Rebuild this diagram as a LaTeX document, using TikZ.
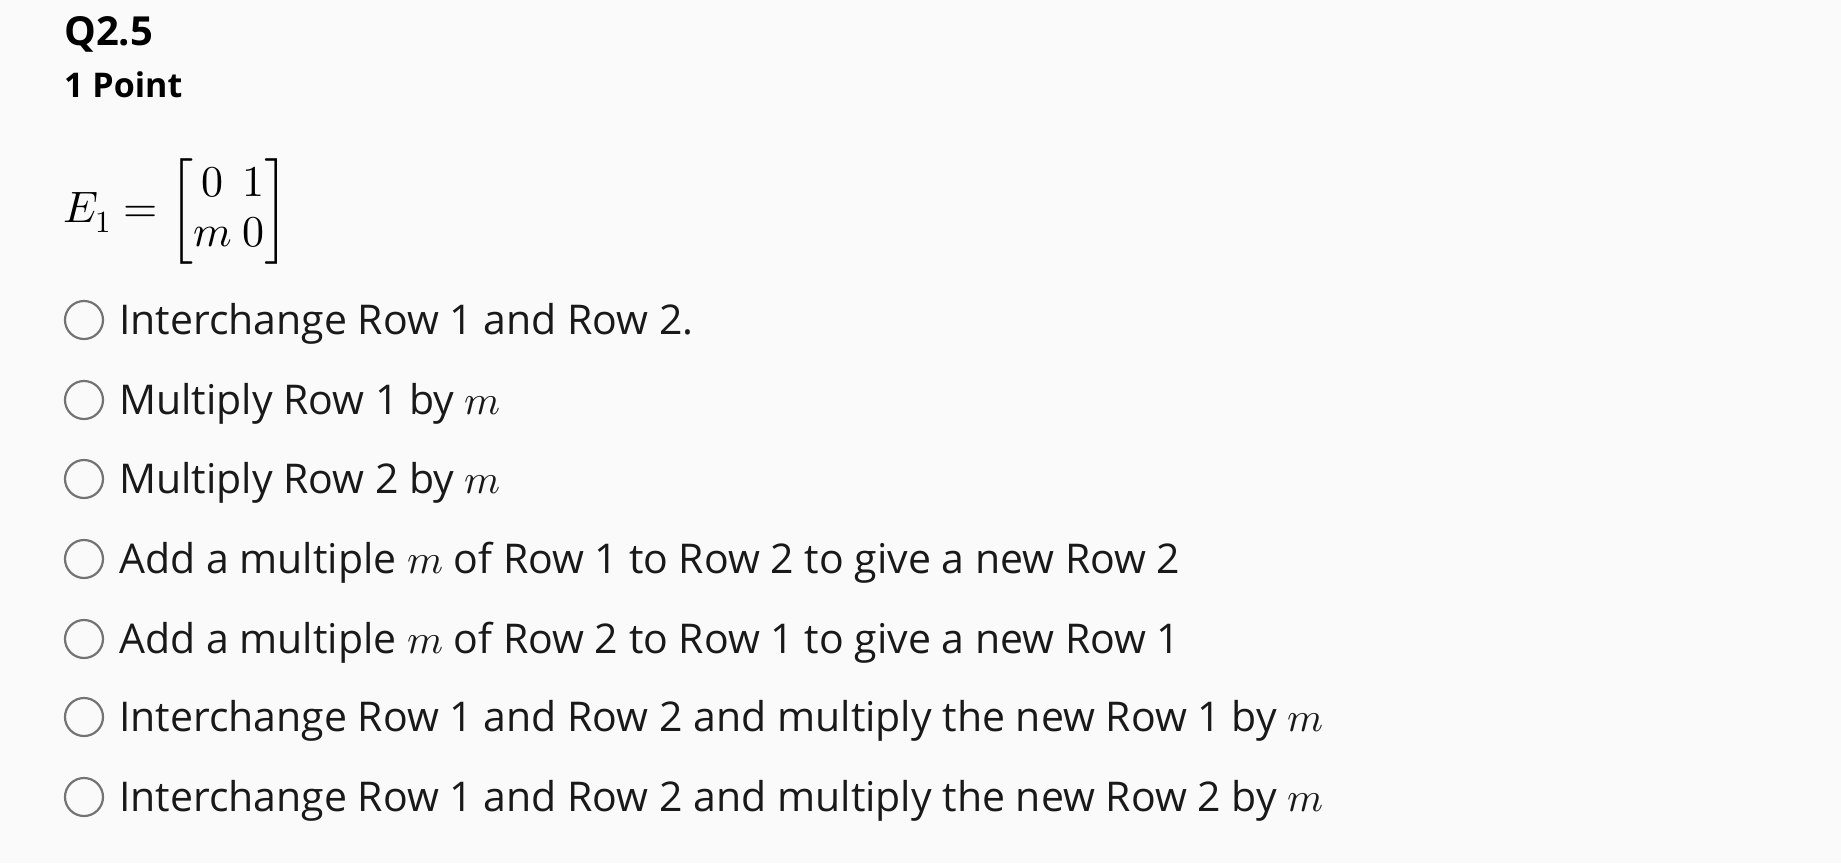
\documentclass[tikz,border=0pt]{standalone}
\usepackage{amsmath}
\usepackage{unicode-math}
\setmainfont{Open Sans}
\setmathfont{Latin Modern Math}
\begin{document}
\begin{tikzpicture}[x=1pt,y=-1pt,
  opt/.style={anchor=base west,inner sep=0pt,font=\fontsize{41}{46}\selectfont,text=black!90},
  radio/.style={circle,draw=black!55,line width=2.2pt,minimum size=38pt,inner sep=0pt}]
\fill[black!2] (0,0) rectangle (1841,863);
\useasboundingbox (0,0) rectangle (1841,863);
\node[anchor=base west,inner sep=0pt,font=\fontsize{40}{44}\selectfont\bfseries] (q) at (64,45) {Q2.5};
\node[anchor=base west,inner sep=0pt,font=\fontsize{34}{38}\selectfont\bfseries] (p) at (64,97) {1 Point};
\node[anchor=west,inner sep=0pt,font=\fontsize{44}{50}\selectfont] (m) at (63,211)
 {$E_1 = \begin{bmatrix} 0 & 1\\ m & 0\end{bmatrix}$};
\foreach \y/\t [count=\i] in {
 320/{Interchange Row 1 and Row 2.},
 400/{Multiply Row 1 by $m$},
 479/{Multiply Row 2 by $m$},
 559/{Add a multiple $m$ of Row 1 to Row 2 to give a new Row 2},
 639/{Add a multiple $m$ of Row 2 to Row 1 to give a new Row 1},
 717/{Interchange Row 1 and Row 2 and multiply the new Row 1 by $m$},
 797/{Interchange Row 1 and Row 2 and multiply the new Row 2 by $m$}}{
 \node[radio] (r\i) at (84,\y) {};
 \node[opt] (t\i) at (119,\y+14) {\t};
}
\end{tikzpicture}
\end{document}
